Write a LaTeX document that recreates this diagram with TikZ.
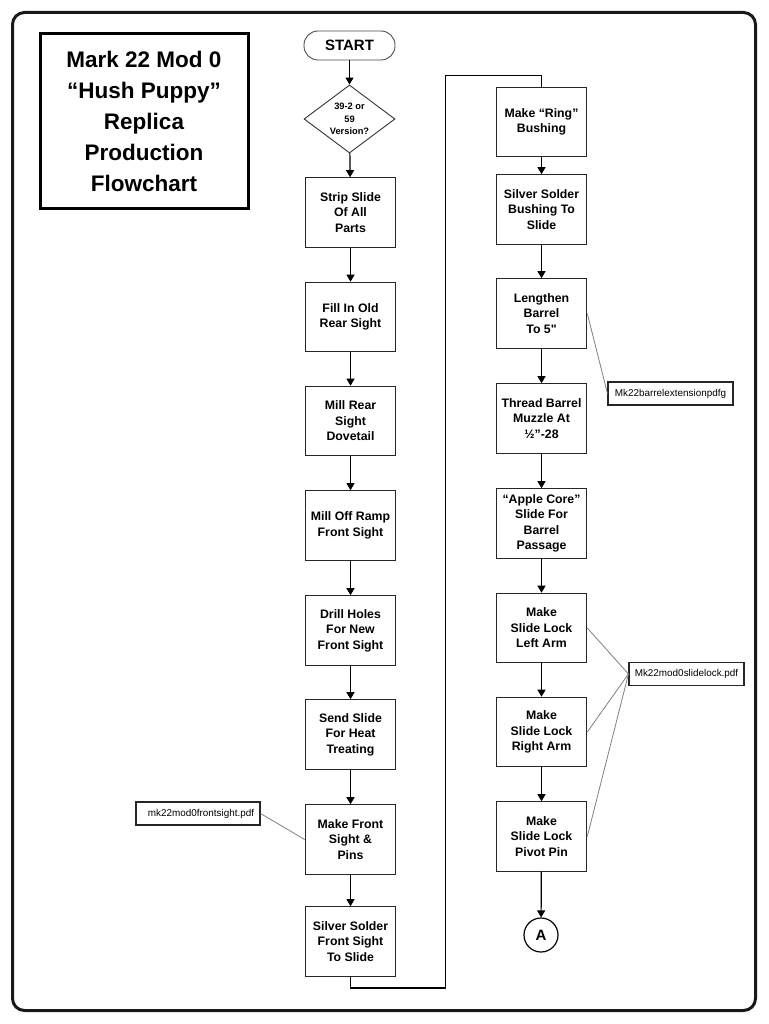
\documentclass[tikz,border=0pt]{standalone}
\usepackage{fontspec}
\setmainfont{Liberation Sans}[Ligatures=TeXOff]
\usetikzlibrary{shapes.geometric,arrows.meta}
\tikzset{
  x=1pt,y=-1pt,
  proc/.style={draw=black!85,line width=1.1pt,fill=white,minimum width=90.5pt,minimum height=69.5pt,inner sep=0pt,align=center,
    font=\fontsize{12.3}{15.5}\selectfont\bfseries},
  note/.style={draw=black!85,line width=1.1pt,fill=white,minimum height=23pt,inner sep=0pt,font=\fontsize{9.9}{11}\selectfont},
  flow/.style={line width=1.2pt,-{Triangle[length=7pt,width=8pt]}},
  plain/.style={line width=1.1pt},
  link/.style={draw=black!50,line width=0.8pt},
}
\begin{document}
\begin{tikzpicture}
\useasboundingbox (0,0) rectangle (768,1024);
\fill[white] (0,0) rectangle (768,1024);
\draw[line width=3pt,rounded corners=12pt,draw=black!90] (12.5,12.5) rectangle (755.5,1010.5);
\node[draw=black,line width=3pt,minimum width=208pt,minimum height=175pt,inner sep=0pt,align=center,
  font=\fontsize{22.5}{31}\selectfont\bfseries] (title) at (144,121.5) {Mark 22 Mod 0\\“Hush Puppy”\\Replica\\Production\\Flowchart};
\node[draw=black!70,line width=0.9pt,rounded corners=14pt,minimum width=91pt,minimum height=29pt,inner sep=0pt,
  font=\fontsize{15}{17}\selectfont\bfseries] (start) at (349.5,45.5) {START};
\node[draw=black!80,line width=0.9pt,diamond,aspect=1.33,minimum width=91pt,minimum height=68pt,inner sep=0pt] (dec) at (349.5,119) {};
\node[align=center,inner sep=0pt,font=\fontsize{9.3}{12.5}\selectfont\bfseries] (dectext) at (dec.center) {39-2 or\\59\\Version?};
\node[proc] (a1) at (350.5,212.5) {Strip Slide\\Of All\\Parts};
\node[proc] (a2) at (350.5,317) {Fill In Old\\Rear Sight};
\node[proc] (a3) at (350.5,421) {Mill Rear\\Sight\\Dovetail};
\node[proc] (a4) at (350.5,525.5) {Mill Off Ramp\\Front Sight};
\node[proc] (a5) at (350.5,630.5) {Drill Holes\\For New\\Front Sight};
\node[proc] (a6) at (350.5,734.5) {Send Slide\\For Heat\\Treating};
\node[proc] (a7) at (350.5,839.5) {Make Front\\Sight \&\\Pins};
\node[proc] (a8) at (350.5,941.5) {Silver Solder\\Front Sight\\To Slide};
\node[proc] (b1) at (541.5,122) {Make “Ring”\\Bushing};
\node[proc] (b2) at (541.5,209.5) {Silver Solder\\Bushing To\\Slide};
\node[proc] (b3) at (541.5,313.5) {Lengthen\\Barrel\\To 5"};
\node[proc] (b4) at (541.5,418.5) {Thread Barrel\\Muzzle At\\½”-28};
\node[proc] (b5) at (541.5,523.5) {“Apple Core”\\Slide For\\Barrel\\Passage};
\node[proc] (b6) at (541.5,628) {Make\\Slide Lock\\Left Arm};
\node[proc] (b7) at (541.5,732) {Make\\Slide Lock\\Right Arm};
\node[proc] (b8) at (541.5,836.5) {Make\\Slide Lock\\Pivot Pin};
\node[draw=black,circle,line width=1.2pt,minimum size=34pt,inner sep=0pt,font=\fontsize{15}{17}\selectfont\bfseries] (conn) at (541,935) {A};
\node[note,minimum width=124pt] (n1) at (198,813.5) {\hspace*{6pt}mk22mod0frontsight.pdf};
\node[note,minimum width=125pt] (n2) at (670.5,393.5) {Mk22barrelextensionpdfg};
\node[note,minimum width=115pt] (n3) at (686.5,674) {Mk22mod0slidelock.pdf};
\coordinate (r1) at (445.5,988);
\coordinate (r2) at (445.5,75.5);
\draw[flow] (start) -- (dec);
\draw[flow] (dec) -- (a1);
\draw[flow] (a1) -- (a2);
\draw[flow] (a2) -- (a3);
\draw[flow] (a3) -- (a4);
\draw[flow] (a4) -- (a5);
\draw[flow] (a5) -- (a6);
\draw[flow] (a6) -- (a7);
\draw[flow] (a7) -- (a8);
\draw[plain] (a8.south) |- (r1) -- (r2) -| (b1.north);
\draw[flow] (b1) -- (b2);
\draw[flow] (b2) -- (b3);
\draw[flow] (b3) -- (b4);
\draw[flow] (b4) -- (b5);
\draw[flow] (b5) -- (b6);
\draw[flow] (b6) -- (b7);
\draw[flow] (b7) -- (b8);
\draw[flow] (b8) -- (conn);
\draw[link] (n1.east) -- (a7.west);
\draw[link] (b3.east) -- (n2.west);
\draw[link] (b6.east) -- (n3.west);
\draw[link] (b7.east) -- (n3.west);
\draw[link] (b8.east) -- (n3.west);
\end{tikzpicture}
\end{document}
